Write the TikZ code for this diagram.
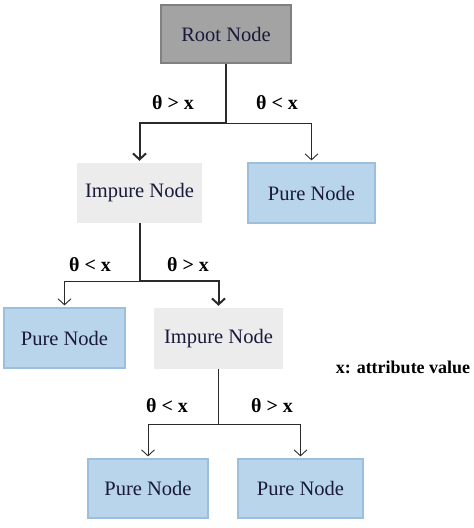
\documentclass[tikz,border=0pt]{standalone}
\usepackage{fontspec}
\setmainfont{Liberation Serif}
\usetikzlibrary{arrows.meta}
\definecolor{rootfill}{HTML}{A3A3A3}
\definecolor{rootdraw}{HTML}{808080}
\definecolor{impfill}{HTML}{ECECEC}
\definecolor{purefill}{HTML}{B9D5EC}
\definecolor{puredraw}{HTML}{9BBFDC}
\definecolor{txt}{HTML}{1A1A3A}
\definecolor{ln}{HTML}{2A2A2A}
\tikzset{
  box/.style={rectangle, inner sep=0pt, text=txt, font=\fontsize{20.5}{23}\selectfont},
  rootbox/.style={box, fill=rootfill, draw=rootdraw, line width=1.5pt},
  impbox/.style={box, fill=impfill},
  purebox/.style={box, fill=purefill, draw=puredraw, line width=1.2pt},
  lab/.style={font=\bfseries\fontsize{20}{22}\selectfont, text=black},
  thickc/.style={draw=ln, line width=2pt, -{Straight Barb[length=6pt,width=13pt,line width=2pt]}, shorten >=2pt},
  thinc/.style={draw=ln, line width=0.9pt, -{Straight Barb[length=6pt,width=13pt,line width=0.9pt]}, shorten >=2pt},
  thinl/.style={draw=ln, line width=0.9pt}
}
\begin{document}
\begin{tikzpicture}[x=1pt,y=-1pt]
\useasboundingbox (0,0) rectangle (474,528);
\node[rootbox, minimum width=130pt, minimum height=58pt] (root) at (226,34) {Root Node};
\node[impbox, minimum width=125pt, minimum height=60pt] (imp1) at (139.5,193) {Impure Node};
\node[purebox, minimum width=127pt, minimum height=60pt] (pure1) at (311.5,193) {Pure Node};
\node[purebox, minimum width=121pt, minimum height=60pt] (pure2) at (64.5,338) {Pure Node};
\node[impbox, minimum width=129pt, minimum height=61pt] (imp2) at (218.5,338.5) {Impure Node};
\node[purebox, minimum width=120pt, minimum height=59pt] (pure3) at (148,488.5) {Pure Node};
\node[purebox, minimum width=125pt, minimum height=59pt] (pure4) at (300.5,488.5) {Pure Node};

\coordinate (j1) at (226,123);
\coordinate (j2) at (139.5,281);
\coordinate (j3) at (218.5,424);

\draw[thickc] (root.south) -- (j1) -| (imp1.north);
\draw[thinc] (j1) -| (pure1.north);
\draw[thickc] (imp1.south) -- (j2) -| (imp2.north);
\draw[thinc] (j2) -| (pure2.north);
\draw[thinl] (imp2.south) -- (j3);
\draw[thinc] (j3) -| (pure3.north);
\draw[thinc] (j3) -| (pure4.north);

\node[lab] (l1) at (173,103) {θ > x};
\node[lab] (l2) at (277,103) {θ < x};
\node[lab] (l3) at (90,265) {θ < x};
\node[lab] (l4) at (188,265) {θ > x};
\node[lab] (l5) at (167,406) {θ < x};
\node[lab] (l6) at (272,406) {θ > x};
\node[font=\bfseries\fontsize{18}{20}\selectfont, text=black] (legend) at (403,367) {x: attribute value};
\end{tikzpicture}
\end{document}
